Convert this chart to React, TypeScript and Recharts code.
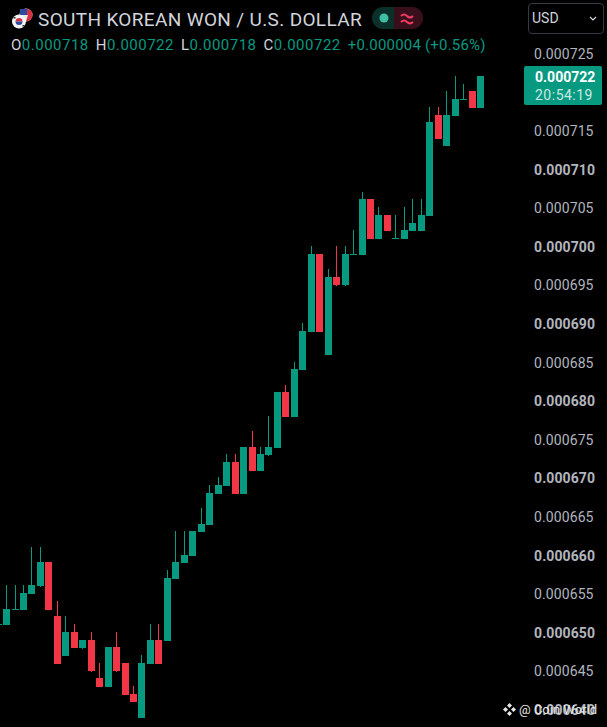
import { ComposedChart, Bar, XAxis, YAxis } from "recharts";

// prices are in millionths of a dollar, the first entry is the sliver cut off at the left edge
const opens = [651, 651, 653, 653, 655, 656, 659, 652, 647, 650, 648, 649, 644, 643, 648, 646, 642, 639, 646, 649, 649, 657, 659, 660, 663, 664, 668, 669, 672, 668, 674, 671, 673, 674, 681, 678, 684, 689, 699, 686, 696, 695, 699, 699, 706, 701, 704, 701, 701, 702, 702, 704, 717, 713, 717, 719, 720, 718];
const highs = [651, 656, 656, 656, 661, 661, 659, 654, 652, 651, 649, 650, 646, 648, 650, 646, 643, 647, 651, 651, 658, 663, 663, 663, 666, 669, 670, 673, 673, 674, 676, 674, 678, 681, 682, 685, 690, 700, 699, 697, 700, 700, 702, 707, 706, 705, 704, 704, 705, 706, 706, 718, 718, 720, 722, 721, 720, 722];
const lows = [651, 651, 653, 653, 655, 656, 653, 646, 647, 648, 648, 645, 643, 643, 645, 642, 641, 639, 646, 646, 649, 657, 659, 660, 663, 664, 668, 669, 668, 668, 671, 671, 673, 674, 678, 678, 684, 689, 689, 686, 695, 695, 699, 699, 701, 701, 702, 701, 701, 702, 702, 704, 714, 713, 717, 719, 718, 718];
const closes = [651, 653, 653, 655, 656, 659, 653, 646, 650, 648, 649, 645, 643, 648, 645, 642, 641, 646, 649, 646, 657, 659, 660, 663, 664, 668, 669, 672, 668, 674, 671, 673, 674, 681, 678, 684, 689, 699, 689, 696, 695, 699, 699, 706, 701, 704, 702, 701, 702, 703, 704, 716, 714, 717, 719, 719, 718, 722];

// 0.000720 sits behind the last price label in the reference, so it is left out
const priceTicks = [640, 645, 650, 655, 660, 665, 670, 675, 680, 685, 690, 695, 700, 705, 710, 715, 725];

const UP = "#089981";
const DOWN = "#f23645";
const W = 607;
const H = 727;

const candles = opens.map((open, i) => ({
  index: i - 1,
  open,
  high: highs[i],
  low: lows[i],
  close: closes[i],
}));

const fmt = (v: number) => (v / 1000000).toFixed(6);

function Candle(props: any) {
  const { x, y, width, height, payload } = props;
  const { open, high, low, close } = payload;
  const unit = high > low ? height / (high - low) : 0;
  const color = close >= open ? UP : DOWN;
  const left = Math.round(x + width / 2 - 3.5);
  const top = Math.round(y + (high - Math.max(open, close)) * unit);
  const bottom = Math.round(y + (high - Math.min(open, close)) * unit);
  return (
    <g shapeRendering="crispEdges">
      <rect x={left + 3} y={Math.round(y)} width={1} height={Math.round(height) + 1} fill={color} />
      <rect x={left} y={top} width={7} height={bottom - top + 1} fill={color} />
    </g>
  );
}

function PriceTick(props: any) {
  const { x, y, payload } = props;
  const bold = payload.value % 10 === 0;
  return (
    <text
      x={x + 2}
      y={y}
      dy={6}
      textAnchor="start"
      fontFamily="Roboto"
      fontSize={14}
      fontWeight={bold ? 700 : 400}
      letterSpacing={0.1}
      fill="#b2b5be"
    >
      {fmt(payload.value)}
    </text>
  );
}

function Flags() {
  return (
    <svg width={24} height={24} style={{ position: "absolute", left: 10, top: 6 }}>
      <circle cx={16} cy={9} r={6.5} fill="#e9e9ee" />
      <path d="M16 2.5a6.5 6.5 0 0 1 6.5 6.5H16z" fill="#d8303f" />
      <path d="M16 15.5a6.5 6.5 0 0 0 6.5-6.5H18z" fill="#d8303f" />
      <rect x={10} y={3} width={7} height={6} fill="#2b4aa0" />
      <circle cx={9} cy={15.5} r={7} fill="#f4f4f4" />
      <path d="M5.5 15.5a3.5 3.5 0 0 1 7 0z" fill="#d8303f" />
      <path d="M5.5 15.5a3.5 3.5 0 0 0 7 0z" fill="#2b4aa0" />
      <rect x={3.5} y={11} width={2} height={1.5} fill="#222" />
      <rect x={12.5} y={19} width={2} height={1.5} fill="#222" />
    </svg>
  );
}

function StatusPill() {
  return (
    <svg width={51} height={22} style={{ position: "absolute", left: 372, top: 7 }}>
      <path d="M11 0H22V22H11a11 11 0 0 1 0-22z" fill="#0b3029" />
      <path d="M22 0H40a11 11 0 0 1 0 22H22z" fill="#3a0f1c" />
      <circle cx={12} cy={11} r={4.5} fill="#3fbfa4" />
      <path d="M29 9q3-3 6 0t6 0M29 15q3-3 6 0t6 0" fill="none" stroke="#f23a63" strokeWidth={2} />
    </svg>
  );
}

export default function App() {
  const last = closes[closes.length - 1];
  const o = opens[opens.length - 1];
  const chg = ((last - o) / o) * 100;
  const ohlc = [
    ["O", o],
    ["H", highs[highs.length - 1]],
    ["L", lows[lows.length - 1]],
    ["C", last],
  ] as [string, number][];

  return (
    <div
      style={{
        position: "absolute",
        left: 0,
        top: 0,
        width: W,
        height: H,
        background: "#000",
        overflow: "hidden",
        fontFamily: "Roboto",
      }}
    >
      <ComposedChart width={W} height={H} data={candles} margin={{ top: 0, right: 0, bottom: 0, left: 0 }}>
        <XAxis dataKey="index" type="number" domain={[-0.744, 61.17]} allowDataOverflow hide />
        <YAxis
          orientation="right"
          width={83}
          domain={[637.67, 731.84]}
          ticks={priceTicks}
          interval={0}
          axisLine={false}
          tickLine={false}
          tick={<PriceTick />}
        />
        <Bar dataKey={(d: any) => [d.low, d.high]} barSize={7} shape={<Candle />} isAnimationActive={false} />
      </ComposedChart>

      <Flags />
      <div style={{ position: "absolute", left: 38, top: 9, fontSize: 19, lineHeight: "22px", letterSpacing: 0.35, color: "#d1d4dc", whiteSpace: "nowrap" }}>
        SOUTH KOREAN WON / U.S. DOLLAR
      </div>
      <StatusPill />

      <div style={{ position: "absolute", left: 11, top: 36, fontSize: 15, lineHeight: "18px", letterSpacing: 0.5, color: UP, whiteSpace: "nowrap" }}>
        {ohlc.map(([k, v]) => (
          <span key={k} style={{ marginRight: 7 }}>
            <span style={{ color: "#d1d4dc" }}>{k}</span>
            {fmt(v)}
          </span>
        ))}
        <span style={{ letterSpacing: 0.2 }}>
          +{fmt(last - o)} (+{chg.toFixed(2)}%)
        </span>
      </div>

      <div
        style={{
          position: "absolute",
          left: 528,
          top: 3,
          width: 76,
          height: 31,
          boxSizing: "border-box",
          border: "1px solid #363a45",
          borderRadius: 4,
          color: "#d1d4dc",
          fontSize: 14,
          lineHeight: "29px",
          paddingLeft: 3,
        }}
      >
        USD
        <svg width={8} height={6} style={{ position: "absolute", right: 6, top: 12 }}>
          <path d="M1 1l3 3 3-3" fill="none" stroke="#d1d4dc" strokeWidth={1.2} />
        </svg>
      </div>

      <div
        style={{
          position: "absolute",
          left: 524,
          top: 66,
          width: 78,
          height: 39,
          background: UP,
          borderRadius: 2,
          fontSize: 14,
          lineHeight: "18px",
          padding: "2px 0 0 11px",
          boxSizing: "border-box",
          whiteSpace: "nowrap",
        }}
      >
        <div style={{ color: "#fff", fontWeight: 700 }}>{fmt(last)}</div>
        <div style={{ color: "#c8e8e0", letterSpacing: 0.5 }}>20:54:19</div>
      </div>

      <div style={{ position: "absolute", left: 503, top: 702, fontSize: 13, lineHeight: "16px", color: "#e6e6e6", whiteSpace: "nowrap" }}>
        <svg width={13} height={13} style={{ verticalAlign: "-2px", marginRight: 3 }}>
          <path d="M6.5 0l2.5 2.5-2.5 2.5L4 2.5zM2.5 4L5 6.5 2.5 9 0 6.5zM10.5 4L13 6.5 10.5 9 8 6.5zM6.5 8L9 10.5 6.5 13 4 10.5z" fill="#e6e6e6" />
        </svg>
        @ Coin World
      </div>
    </div>
  );
}
